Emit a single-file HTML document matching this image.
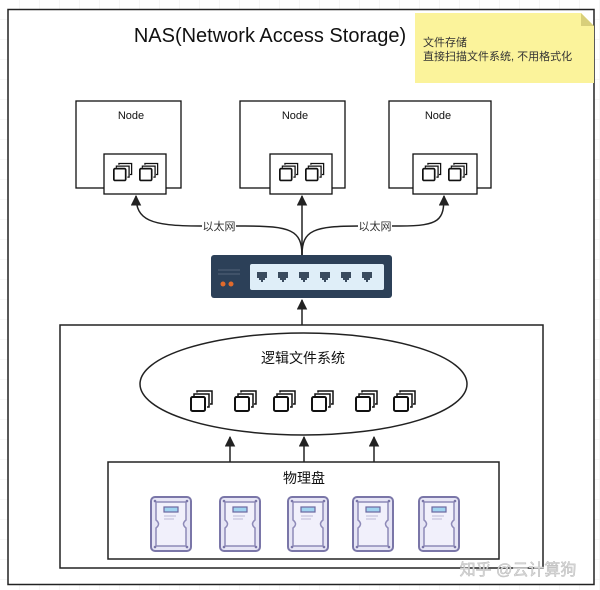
<!DOCTYPE html>
<html><head><meta charset="utf-8"><style>
html,body{margin:0;padding:0;background:#fff;}
svg{display:block;font-family:"Liberation Sans","Noto Sans CJK SC",sans-serif;}
</style></head><body>
<svg width="600" height="590" viewBox="0 0 600 590" xmlns="http://www.w3.org/2000/svg">
<defs>
<pattern id="g" width="20" height="20" patternUnits="userSpaceOnUse"><path d="M20 0V20H0" fill="none" stroke="#eee" stroke-width="1"/></pattern>
<symbol id="fi" viewBox="0 0 26 22" overflow="visible">
<rect x="1" y="7" width="14" height="14" rx="1.5" fill="#fff" stroke="#111" stroke-width="2"/>
<path d="M4 6V4H19V17H17" fill="none" stroke="#111" stroke-width="1.5"/>
<path d="M7 2.5V1H22V14H20" fill="none" stroke="#111" stroke-width="1.5"/>
</symbol>
<symbol id="disk" viewBox="0 0 42 56" preserveAspectRatio="none">
<rect x="1" y="1" width="40" height="54" rx="4" fill="#e6e5f5" stroke="#7a76a8" stroke-width="2"/>
<path d="M6 6H36V24Q31 28 36 32V50H6V32Q11 28 6 24Z" fill="#f1f0fb" stroke="#8e8ab8" stroke-width="1.5"/>
<rect x="14" y="11" width="14" height="5" fill="#9fd3ef" stroke="#6c68a0" stroke-width="1.2"/>
<line x1="14" y1="20" x2="26" y2="20" stroke="#bbb8d6" stroke-width="1"/>
<line x1="14" y1="23" x2="24" y2="23" stroke="#bbb8d6" stroke-width="1"/>
<circle cx="5" cy="5" r="1.3" fill="#7a76a8"/><circle cx="37" cy="5" r="1.3" fill="#7a76a8"/>
<circle cx="5" cy="51" r="1.3" fill="#7a76a8"/><circle cx="37" cy="51" r="1.3" fill="#7a76a8"/>
</symbol>
<symbol id="port" viewBox="0 0 12 12"><path d="M1 1H11V7H9V9H7V11H5V9H3V7H1Z" fill="#3a4b5e"/></symbol>
<marker id="ah" viewBox="0 0 10 10" refX="9" refY="5" markerWidth="7" markerHeight="7" orient="auto-start-reverse"><path d="M0 0L10 5L0 10Z" fill="#222"/></marker>
</defs>
<rect width="600" height="590" fill="url(#g)"/>
<rect x="8" y="9.5" width="586" height="575" fill="#fff" stroke="#222" stroke-width="1.5"/>
<text x="270" y="42" font-size="20" text-anchor="middle" fill="#111">NAS(Network Access Storage)</text>
<path d="M415 13H581L594 26V83H415Z" fill="#fbf39b"/>
<path d="M581 13L594 26H581Z" fill="#d8cf7a"/>
<text x="423" y="46" font-size="11" fill="#333">文件存储</text>
<text x="423" y="60" font-size="11" fill="#333">直接扫描文件系统, 不用格式化</text>
<g fill="#fff" stroke="#111" stroke-width="1.3">
<rect x="76" y="101" width="105" height="87"/>
<rect x="240" y="101" width="105" height="87"/>
<rect x="389" y="101" width="102" height="87"/>
<rect x="104" y="154" width="62" height="40"/>
<rect x="270" y="154" width="62" height="40"/>
<rect x="413" y="154" width="64" height="40"/>
</g>
<g font-size="11" text-anchor="middle" fill="#111">
<text x="131" y="119">Node</text><text x="295" y="119">Node</text><text x="438" y="119">Node</text>
</g>
<use href="#fi" x="113" y="162" width="22" height="20"/><use href="#fi" x="139" y="162" width="22" height="20"/>
<use href="#fi" x="279" y="162" width="22" height="20"/><use href="#fi" x="305" y="162" width="22" height="20"/>
<use href="#fi" x="422" y="162" width="22" height="20"/><use href="#fi" x="448" y="162" width="22" height="20"/>
<g fill="none" stroke="#222" stroke-width="1.5">
<path d="M302 255C302 230 290 226 245 226H200C150 226 136 220 136 196" marker-end="url(#ah)"/>
<path d="M302 255V196" marker-end="url(#ah)"/>
<path d="M302 255C302 230 314 226 360 226H400C440 226 444 220 444 196" marker-end="url(#ah)"/>
</g>
<rect x="202" y="218" width="34" height="14" fill="#fff"/><rect x="358" y="218" width="34" height="14" fill="#fff"/>
<text x="219" y="230" font-size="11" text-anchor="middle" fill="#333">以太网</text>
<text x="375" y="230" font-size="11" text-anchor="middle" fill="#333">以太网</text>
<rect x="211" y="255" width="181" height="43" rx="3" fill="#2c4058"/>
<line x1="218" y1="270" x2="240" y2="270" stroke="#53657a" stroke-width="1"/>
<line x1="218" y1="274" x2="240" y2="274" stroke="#53657a" stroke-width="1"/>
<circle cx="223" cy="284" r="2.5" fill="#e06a2c"/><circle cx="231" cy="284" r="2.5" fill="#e06a2c"/>
<rect x="250" y="264" width="134" height="26" rx="2" fill="#dfeef8"/>
<use href="#port" x="256" y="271" width="12" height="12"/><use href="#port" x="277" y="271" width="12" height="12"/>
<use href="#port" x="298" y="271" width="12" height="12"/><use href="#port" x="319" y="271" width="12" height="12"/>
<use href="#port" x="340" y="271" width="12" height="12"/><use href="#port" x="361" y="271" width="12" height="12"/>
<rect x="60" y="325" width="483" height="243" fill="#fff" stroke="#222" stroke-width="1.5"/>
<path d="M302 325V300" stroke="#222" stroke-width="1.5" marker-end="url(#ah)"/>
<ellipse cx="303.5" cy="384" rx="163.5" ry="51" fill="#fff" stroke="#222" stroke-width="1.5"/>
<text x="303" y="363" font-size="14" text-anchor="middle" fill="#111">逻辑文件系统</text>
<use href="#fi" x="190" y="389" width="26" height="24"/><use href="#fi" x="234" y="389" width="26" height="24"/>
<use href="#fi" x="273" y="389" width="26" height="24"/><use href="#fi" x="311" y="389" width="26" height="24"/>
<use href="#fi" x="355" y="389" width="26" height="24"/><use href="#fi" x="393" y="389" width="26" height="24"/>
<rect x="108" y="462" width="391" height="97" fill="#fff" stroke="#222" stroke-width="1.5"/>
<g stroke="#222" stroke-width="1.5">
<path d="M230 462V437" marker-end="url(#ah)"/><path d="M304 462V437" marker-end="url(#ah)"/><path d="M374 462V437" marker-end="url(#ah)"/>
</g>
<text x="304" y="483" font-size="14" text-anchor="middle" fill="#111">物理盘</text>
<use href="#disk" x="150" y="496" width="42" height="56"/><use href="#disk" x="219" y="496" width="42" height="56"/>
<use href="#disk" x="287" y="496" width="42" height="56"/><use href="#disk" x="352" y="496" width="42" height="56"/>
<use href="#disk" x="418" y="496" width="42" height="56"/>
<text x="518" y="575" font-size="16" text-anchor="middle" fill="#ddd" stroke="#bbb" stroke-width="0.5">知乎 @云计算狗</text>
</svg>
</body></html>
